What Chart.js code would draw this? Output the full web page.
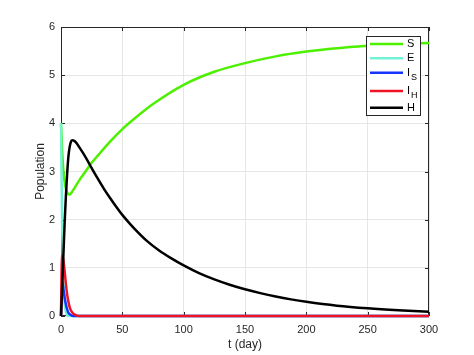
<!DOCTYPE html>
<html><head><meta charset="utf-8">
<script src="https://cdn.jsdelivr.net/npm/chart.js@4/dist/chart.umd.min.js"></script>
<style>html,body{margin:0;padding:0;background:#fff;}#wrap{width:474px;height:355px;}</style>
</head><body><div id="wrap"><canvas id="c" width="474" height="355"></canvas></div>
<script>
// ---- data ----
const tS = [0,1,2,3,4,5,6,7,8,10,15,20,25,30,40,50,60,75,100,125,150,175,200,225,250,275,300];
const S  = [4.0,3.4,3.0,2.78,2.64,2.57,2.53,2.52,2.54,2.62,2.82,3.0,3.18,3.33,3.62,3.88,4.1,4.4,4.8,5.07,5.25,5.39,5.49,5.56,5.61,5.65,5.67];
const tE = [0,0.5,1,1.5,2,3,4,5,6,300];
const E  = [4,2.8,1.8,1.15,0.7,0.25,0.08,0.02,0,0];
const tIs = [0,0.5,1,1.5,2,3,4,5,6,8,10,300];
const Is  = [0,0.55,0.7,0.65,0.55,0.38,0.24,0.14,0.07,0.02,0,0];
const tIh = [0,0.5,1,1.5,2,3,4,5,6,7,8,10,12,15,300];
const Ih  = [0,0.95,1.25,1.22,1.15,0.92,0.66,0.45,0.3,0.19,0.12,0.05,0.02,0,0];
const tH = [0,1,2,3,4,5,6,7,8,9,10,12,15,20,25,30,35,40,45,50,55,60,70,80,90,100,112.5,125,137.5,150,162.5,175,187.5,200,225,250,275,300];
const H  = [0,0.6,1.3,1.95,2.5,2.95,3.3,3.5,3.61,3.65,3.645,3.61,3.5,3.3,3.07,2.85,2.64,2.45,2.27,2.1,1.95,1.81,1.56,1.36,1.195,1.05,0.89,0.76,0.65,0.555,0.475,0.405,0.345,0.295,0.215,0.16,0.12,0.09];
const xTicks = [0,50,100,150,200,250,300];
const yTicks = [0,1,2,3,4,5,6];
const names = ['S','E','I|S','I|H','H'];
const colors = ['#4cf000','#74f2d6','#1434ff','#ee1426','#000000'];

const pts = (t, v) => t.map((x, i) => ({x, y: v[i]}));
const series = [pts(tS,S), pts(tE,E), pts(tIs,Is), pts(tIh,Ih), pts(tH,H)];
const orders = [4,3,2,1,0];

const FONT = '"Liberation Sans", Arial, sans-serif';

const frame = {
  id: 'frame',
  beforeDatasetsDraw(chart) {
    const {ctx, chartArea: a, scales: {x, y}} = chart;
    ctx.save();
    ctx.strokeStyle = '#262626';
    ctx.lineWidth = 1;
    ctx.strokeRect(Math.round(a.left) + 0.5, Math.round(a.top) + 0.5, Math.round(a.width) - 1, Math.round(a.height) - 1);
    ctx.beginPath();
    const L = 4;
    xTicks.forEach(v => {
      const px = Math.round(x.getPixelForValue(v)) + 0.5;
      ctx.moveTo(px, a.bottom); ctx.lineTo(px, a.bottom - L);
      ctx.moveTo(px, a.top); ctx.lineTo(px, a.top + L);
    });
    yTicks.forEach(v => {
      const py = Math.round(y.getPixelForValue(v)) + 0.5;
      ctx.moveTo(a.left, py); ctx.lineTo(a.left + L, py);
      ctx.moveTo(a.right, py); ctx.lineTo(a.right - L, py);
    });
    ctx.stroke();
    ctx.restore();
  }
};

const legendBox = {
  id: 'legendBox',
  afterDraw(chart) {
    const {ctx, chartArea: a} = chart;
    const x0 = a.right - 63, y0 = a.top + 9, w = 54, h = 79;
    ctx.save();
    ctx.fillStyle = '#fff';
    ctx.fillRect(x0, y0, w, h);
    ctx.strokeStyle = '#262626';
    ctx.lineWidth = 1;
    ctx.strokeRect(Math.round(x0) + 0.5, Math.round(y0) + 0.5, w, h);
    const rows = [17, 31.3, 45.7, 64, 80.7];
    rows.forEach((ry, i) => {
      const yy = a.top + ry;
      ctx.strokeStyle = colors[i];
      ctx.lineWidth = 2.5;
      ctx.beginPath();
      ctx.moveTo(a.right - 59, yy); ctx.lineTo(a.right - 26, yy);
      ctx.stroke();
      ctx.fillStyle = '#000';
      ctx.textBaseline = 'middle';
      ctx.textAlign = 'left';
      ctx.font = '11px ' + FONT;
      const parts = names[i].split('|');
      const tx = a.right - 22;
      ctx.fillText(parts[0], tx, yy);
      if (parts[1]) {
        const wI = ctx.measureText(parts[0]).width;
        ctx.font = '9px ' + FONT;
        ctx.fillText(parts[1], tx + wI + 1, yy + 5);
      }
    });
    ctx.restore();
  }
};

new Chart(document.getElementById('c'), {
  type: 'scatter',
  data: {
    datasets: series.map((d, i) => ({
      label: names[i].replace('|', ''),
      data: d,
      showLine: true,
      borderColor: colors[i],
      backgroundColor: colors[i],
      borderWidth: 2.5,
      pointRadius: 0,
      cubicInterpolationMode: 'monotone',
      order: orders[i],
      clip: false
    }))
  },
  options: {
    responsive: false,
    animation: false,
    devicePixelRatio: 1,
    layout: {padding: {left: 0, right: 45, top: 27, bottom: 0}},
    plugins: {legend: {display: false}, tooltip: {enabled: false}},
    scales: {
      x: {
        type: 'linear', min: 0, max: 300,
        afterBuildTicks: s => { s.ticks = xTicks.map(v => ({value: v})); },
        afterFit: s => { s.height = 39; },
        grid: {color: '#e6e6e6', drawTicks: false},
        border: {display: false},
        ticks: {color: '#262626', font: {family: FONT, size: 11}, padding: 7, maxRotation: 0},
        title: {display: true, text: 't (day)', color: '#262626', font: {family: FONT, size: 12}, padding: {top: 0, bottom: 3}}
      },
      y: {
        type: 'linear', min: 0, max: 6,
        afterBuildTicks: s => { s.ticks = yTicks.map(v => ({value: v})); },
        afterFit: s => { s.width = 61; },
        grid: {color: '#e6e6e6', drawTicks: false},
        border: {display: false},
        ticks: {color: '#262626', font: {family: FONT, size: 11}, padding: 6},
        title: {display: true, text: 'Population', color: '#262626', font: {family: FONT, size: 12}, padding: {top: 33, bottom: 0}}
      }
    }
  },
  plugins: [frame, legendBox]
});
</script></body></html>
